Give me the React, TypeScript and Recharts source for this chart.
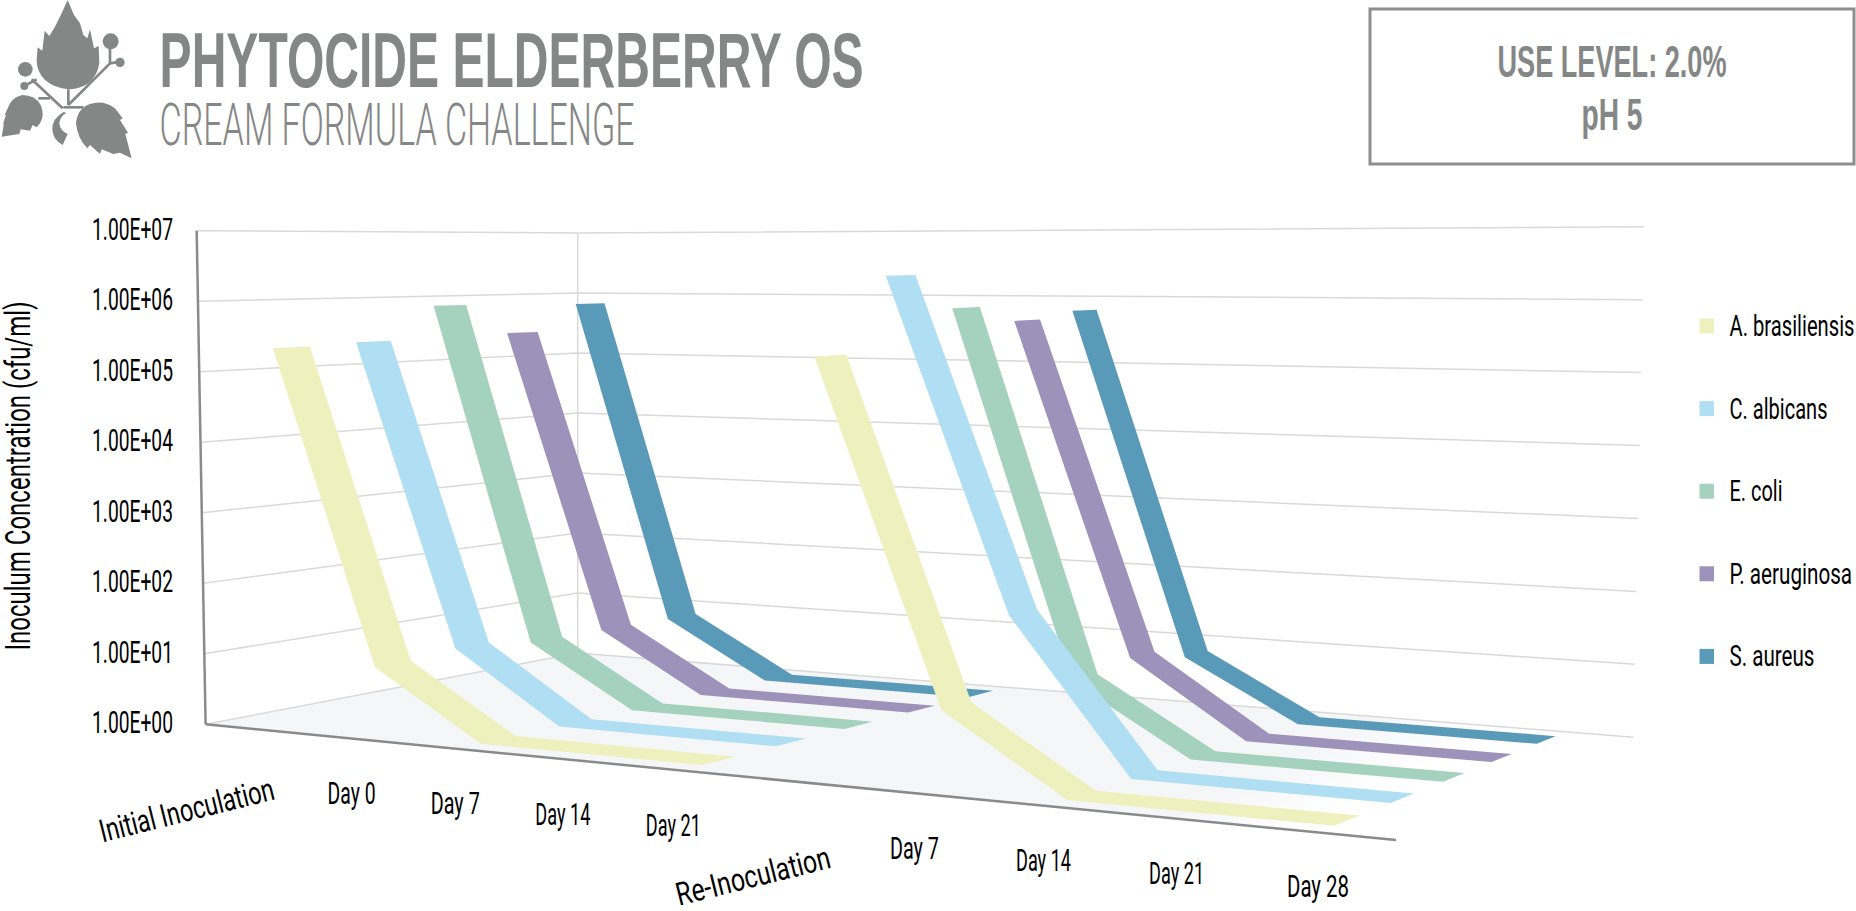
import { ScatterChart, Scatter, XAxis, YAxis } from 'recharts'

const categories = ['Initial Inoculation', 'Day 0', 'Day 7', 'Day 14', 'Day 21', 'Re-Inoculation', 'Day 7', 'Day 14', 'Day 21', 'Day 28']
const seriesNames = ['A. brasiliensis', 'C. albicans', 'E. coli', 'P. aeruginosa', 'S. aureus']
const seriesColors = ['#eef1be', '#b0dff3', '#a5d1bf', '#9c92ba', '#5a9ab9']

// cfu/ml
const aBrasiliensis = [2.16e5, 8.4, 1, 1, 1, 2.34e5, 9.5, 1, 1, 1]
const cAlbicans = [2.34e5, 9.7, 1, 1, 1, 2.42e6, 95, 1, 1, 1]
const eColi = [7.46e5, 7.5, 1, 1, 1, 8.26e5, 8.2, 1, 1, 1]
const pAeruginosa = [2.6e5, 7.4, 1, 1, 1, 5e5, 10.5, 1, 1, 1]
const sAureus = [6.98e5, 7.1, 1, 1, 1, 6.38e5, 6.8, 1, 1, 1]
const allSeries = [aBrasiliensis, cAlbicans, eColi, pAeruginosa, sAureus]

const yTicks = [0, 1, 2, 3, 4, 5, 6, 7]
const yTickLabels = ['1.00E+00', '1.00E+01', '1.00E+02', '1.00E+03', '1.00E+04', '1.00E+05', '1.00E+06', '1.00E+07']

const FONT = '"Liberation Sans", Arial, sans-serif'
const THIN = 'Roboto, "Liberation Sans", sans-serif'
const GREY = '#858787'
const W = 1856
const H = 911

// floor of the 3D box on screen: front-left, front-right, back-right, back-left
const FL = [205.6, 724.3]
const FR = [1396, 840]
const BR = [1633.4, 737.3]
const BL = [577.7, 653]
const topY = { fl: 230.7, fr: 228, br: 226.7, bl: 233 }

const den = (FR[0] - BR[0]) * (BL[1] - BR[1]) - (BL[0] - BR[0]) * (FR[1] - BR[1])
const sx = FL[0] - FR[0] + BR[0] - BL[0]
const sy = FL[1] - FR[1] + BR[1] - BL[1]
const g = (sx * (BL[1] - BR[1]) - (BL[0] - BR[0]) * sy) / den
const h = ((FR[0] - BR[0]) * sy - sx * (FR[1] - BR[1])) / den

// u along the categories, v in decades, w into the depth
function project(u: number, v: number, w: number) {
  const d = 1 + g * u + h * w
  const xf = ((FR[0] - FL[0] + g * FR[0]) * u + (BL[0] - FL[0] + h * BL[0]) * w + FL[0]) / d
  const yf = ((FR[1] - FL[1] + g * FR[1]) * u + (BL[1] - FL[1] + h * BL[1]) * w + FL[1]) / d
  const top =
    (1 - u) * (1 - w) * topY.fl + u * (1 - w) * topY.fr + u * w * topY.br + (1 - u) * w * topY.bl
  const y = yf + ((top - yf) * v) / 7
  const tilt = u === 0 && w === 1 ? 0 : (xf - 861) / 36267
  return { x: xf + tilt * (yf - y), y }
}

const catU = [0.0497, 0.145, 0.245, 0.345, 0.445, 0.541, 0.645, 0.745, 0.845, 0.945]
const depthOf = (s: number) => 0.1 + 0.2015 * s
const HALF_DEPTH = 0.044

function ribbon(values: number[], s: number, from: number, to: number) {
  const idx = values.map((_, i) => i).filter((i) => i >= from && i <= to)
  const front = idx.map((i) => project(catU[i], Math.log10(values[i]), depthOf(s) - HALF_DEPTH))
  const back = idx.map((i) => project(catU[i], Math.log10(values[i]), depthOf(s) + HALF_DEPTH))
  return [...front, ...back.reverse()]
}

const floorPoly = [project(0, 0, 0), project(1, 0, 0), project(1, 0, 1), project(0, 0, 1)]
const gridLines = yTicks.map((v) => [project(0, v, 0), project(0, v, 1), project(1, v, 1)])
const cornerLine = [project(0, 0, 1), project(0, 7, 1)]
const yAxisLine = [project(0, 7, 0), project(0, 0, 0)]
const xAxisLine = [project(0, 0, 0), project(1, 0, 0)]

// label nudges from the axis point: dx, dy, text length, rotation
const labelLayout = [
  [21, 70, 179, -14, 'end'],
  [-1, 65, 48, 0, 'middle'],
  [-3, 65, 49, 0, 'middle'],
  [-5, 65, 55, 0, 'middle'],
  [-8, 65, 55, 0, 'middle'],
  [38, 86, 158, -14, 'end'],
  [-7, 65, 49, 0, 'middle'],
  [-5, 65, 55, 0, 'middle'],
  [-4, 65, 55, 0, 'middle'],
  [0, 65, 62, 0, 'middle'],
] as const

const labelPoints = categories.map((name, i) => ({ ...project(catU[i], 0, 0), name, i }))
const yTickPoints = yTicks.map((v) => ({ x: 173, y: v, label: yTickLabels[v] }))

function CategoryLabel(props: any) {
  const { cx, cy, payload } = props
  const [dx, dy, len, rot, anchor] = labelLayout[payload.i]
  const x = cx + dx
  const y = cy + dy
  return (
    <text
      x={x}
      y={y}
      fontFamily={THIN}
      fontSize={32}
      fill="#000"
      textAnchor={anchor}
      textLength={len}
      lengthAdjust="spacingAndGlyphs"
      transform={rot ? `rotate(${rot} ${x} ${y})` : undefined}
    >
      {payload.name}
    </text>
  )
}

function YTickLabel(props: any) {
  const { cx, cy, payload } = props
  return (
    <text
      x={cx}
      y={cy + 11.5}
      fontFamily={THIN}
      fontSize={32}
      fill="#000"
      textAnchor="end"
      textLength={81}
      lengthAdjust="spacingAndGlyphs"
    >
      {payload.label}
    </text>
  )
}

const noDot = () => null

function Logo() {
  return (
    <g transform="translate(0,10) scale(0.3333)" fill={GREY} stroke="none">
      <path d="M203,-30 L222,15 L240,40 L250,75 L262,85 L270,58 L282,115 L296,108 L298,160 Q292,200 262,222 Q235,238 205,238 Q165,235 135,210 Q110,185 110,150 L113,112 L127,122 L134,62 L148,78 L165,50 L180,20 Z" />
      <path d="M228,340 Q232,295 270,282 Q310,268 345,295 L368,325 L360,330 L384,368 L376,372 L395,445 L360,428 L340,432 L305,418 L300,432 L270,405 L262,415 Q232,385 228,340 Z" />
      <path d="M68,255 Q105,255 122,285 Q135,315 120,340 L110,352 L98,345 L90,362 L62,358 L58,372 L5,380 L12,340 L8,345 L18,315 L14,315 L30,280 Q45,258 68,255 Z" />
      <path d="M192,305 Q155,325 157,360 Q160,390 188,405 L203,372 Q180,362 178,340 Q180,320 198,310 Z" />
      <g stroke={GREY} strokeWidth={8} fill="none">
        <path d="M188,295 L95,208" />
        <path d="M205,285 L330,160" />
        <path d="M205,238 L205,285" />
        <path d="M330,110 L330,160 L360,155" />
        <path d="M73,228 L110,208" />
        <path d="M115,265 L150,265" />
        <path d="M190,292 L250,292" />
      </g>
      <circle cx={332} cy={94} r={24} />
      <circle cx={360} cy={157} r={14} />
      <circle cx={76} cy={178} r={22} />
      <circle cx={73} cy={228} r={12} />
    </g>
  )
}

function Header() {
  return (
    <svg width={W} height={H} style={{ position: 'absolute', left: 0, top: 0 }}>
      <Logo />
      <text x={159.6} y={87.3} fontFamily={FONT} fontWeight={700} fontSize={78} fill={GREY} textLength={704} lengthAdjust="spacingAndGlyphs">
        PHYTOCIDE ELDERBERRY OS
      </text>
      <text x={159.6} y={145} fontFamily={THIN} fontWeight={300} fontSize={59} fill={GREY} textLength={475} lengthAdjust="spacingAndGlyphs">
        CREAM FORMULA CHALLENGE
      </text>
      <rect x={1370} y={9} width={484} height={155} fill="none" stroke="#8e8e8e" strokeWidth={3} />
      <text x={1612} y={77} textAnchor="middle" fontFamily={FONT} fontWeight={700} fontSize={44} fill={GREY} textLength={229} lengthAdjust="spacingAndGlyphs">
        USE LEVEL: 2.0%
      </text>
      <text x={1612} y={130} textAnchor="middle" fontFamily={FONT} fontWeight={700} fontSize={44} fill={GREY} textLength={61} lengthAdjust="spacingAndGlyphs">
        pH 5
      </text>
      <text
        x={30}
        y={476}
        textAnchor="middle"
        fontFamily={THIN}
        fontSize={35}
        fill="#000"
        textLength={349}
        lengthAdjust="spacingAndGlyphs"
        transform="rotate(-90 30 476)"
      >
        Inoculum Concentration (cfu/ml)
      </text>
      {seriesNames.map((name, s) => {
        const cy = 326 + 82.6 * s
        return (
          <g key={name}>
            <rect x={1699.5} y={cy - 7.5} width={14.5} height={15} fill={seriesColors[s]} />
            <text x={1729.5} y={cy + 10} fontFamily={THIN} fontSize={30} fill="#000" textLength={[125, 98, 53, 122.6, 85][s]} lengthAdjust="spacingAndGlyphs">
              {name}
            </text>
          </g>
        )
      })}
    </svg>
  )
}

export default function App() {
  return (
    <div style={{ position: 'absolute', left: 0, top: 0, width: W, height: H, overflow: 'hidden', background: '#fff' }}>
      <ScatterChart width={W} height={H} margin={{ top: 0, right: 0, bottom: 0, left: 0 }}>
        <defs>
          <linearGradient id="floorFade" gradientUnits="userSpaceOnUse" x1={1300} y1={753} x2={1331} y2={816}>
            <stop offset="0%" stopColor="#f5f6f8" />
            <stop offset="100%" stopColor="#ffffff" />
          </linearGradient>
        </defs>
        <XAxis type="number" dataKey="x" domain={[0, W]} hide />
        <YAxis type="number" dataKey="y" yAxisId="px" domain={[0, H]} reversed hide />
        <YAxis type="number" dataKey="y" yAxisId="decades" domain={[-2.687, 10.234]} hide />
        <Scatter yAxisId="px" data={floorPoly} shape={noDot} line={{ fill: 'url(#floorFade)', stroke: 'none' }} isAnimationActive={false} />
        {gridLines.map((pts, i) => (
          <Scatter key={i} yAxisId="px" data={pts} shape={noDot} line={{ stroke: '#d9d9d9', strokeWidth: 1.5 }} isAnimationActive={false} />
        ))}
        <Scatter yAxisId="px" data={cornerLine} shape={noDot} line={{ stroke: '#d9d9d9', strokeWidth: 1.5 }} isAnimationActive={false} />
        <Scatter yAxisId="px" data={yAxisLine} shape={noDot} line={{ stroke: '#8a8a8a', strokeWidth: 2.5 }} isAnimationActive={false} />
        <Scatter yAxisId="px" data={xAxisLine} shape={noDot} line={{ stroke: '#8a8a8a', strokeWidth: 2.5 }} isAnimationActive={false} />
        {[4, 3, 2, 1, 0].map((s) => (
          <Scatter key={`a${s}`} yAxisId="px" data={ribbon(allSeries[s], s, 0, 4)} shape={noDot} line={{ fill: seriesColors[s], stroke: 'none' }} isAnimationActive={false} />
        ))}
        {[4, 3, 2, 1, 0].map((s) => (
          <Scatter key={`b${s}`} yAxisId="px" data={ribbon(allSeries[s], s, 5, 9)} shape={noDot} line={{ fill: seriesColors[s], stroke: 'none' }} isAnimationActive={false} />
        ))}
        <Scatter yAxisId="px" data={labelPoints} shape={CategoryLabel} isAnimationActive={false} />
        <Scatter yAxisId="decades" data={yTickPoints} shape={YTickLabel} isAnimationActive={false} />
      </ScatterChart>
      <Header />
    </div>
  )
}
